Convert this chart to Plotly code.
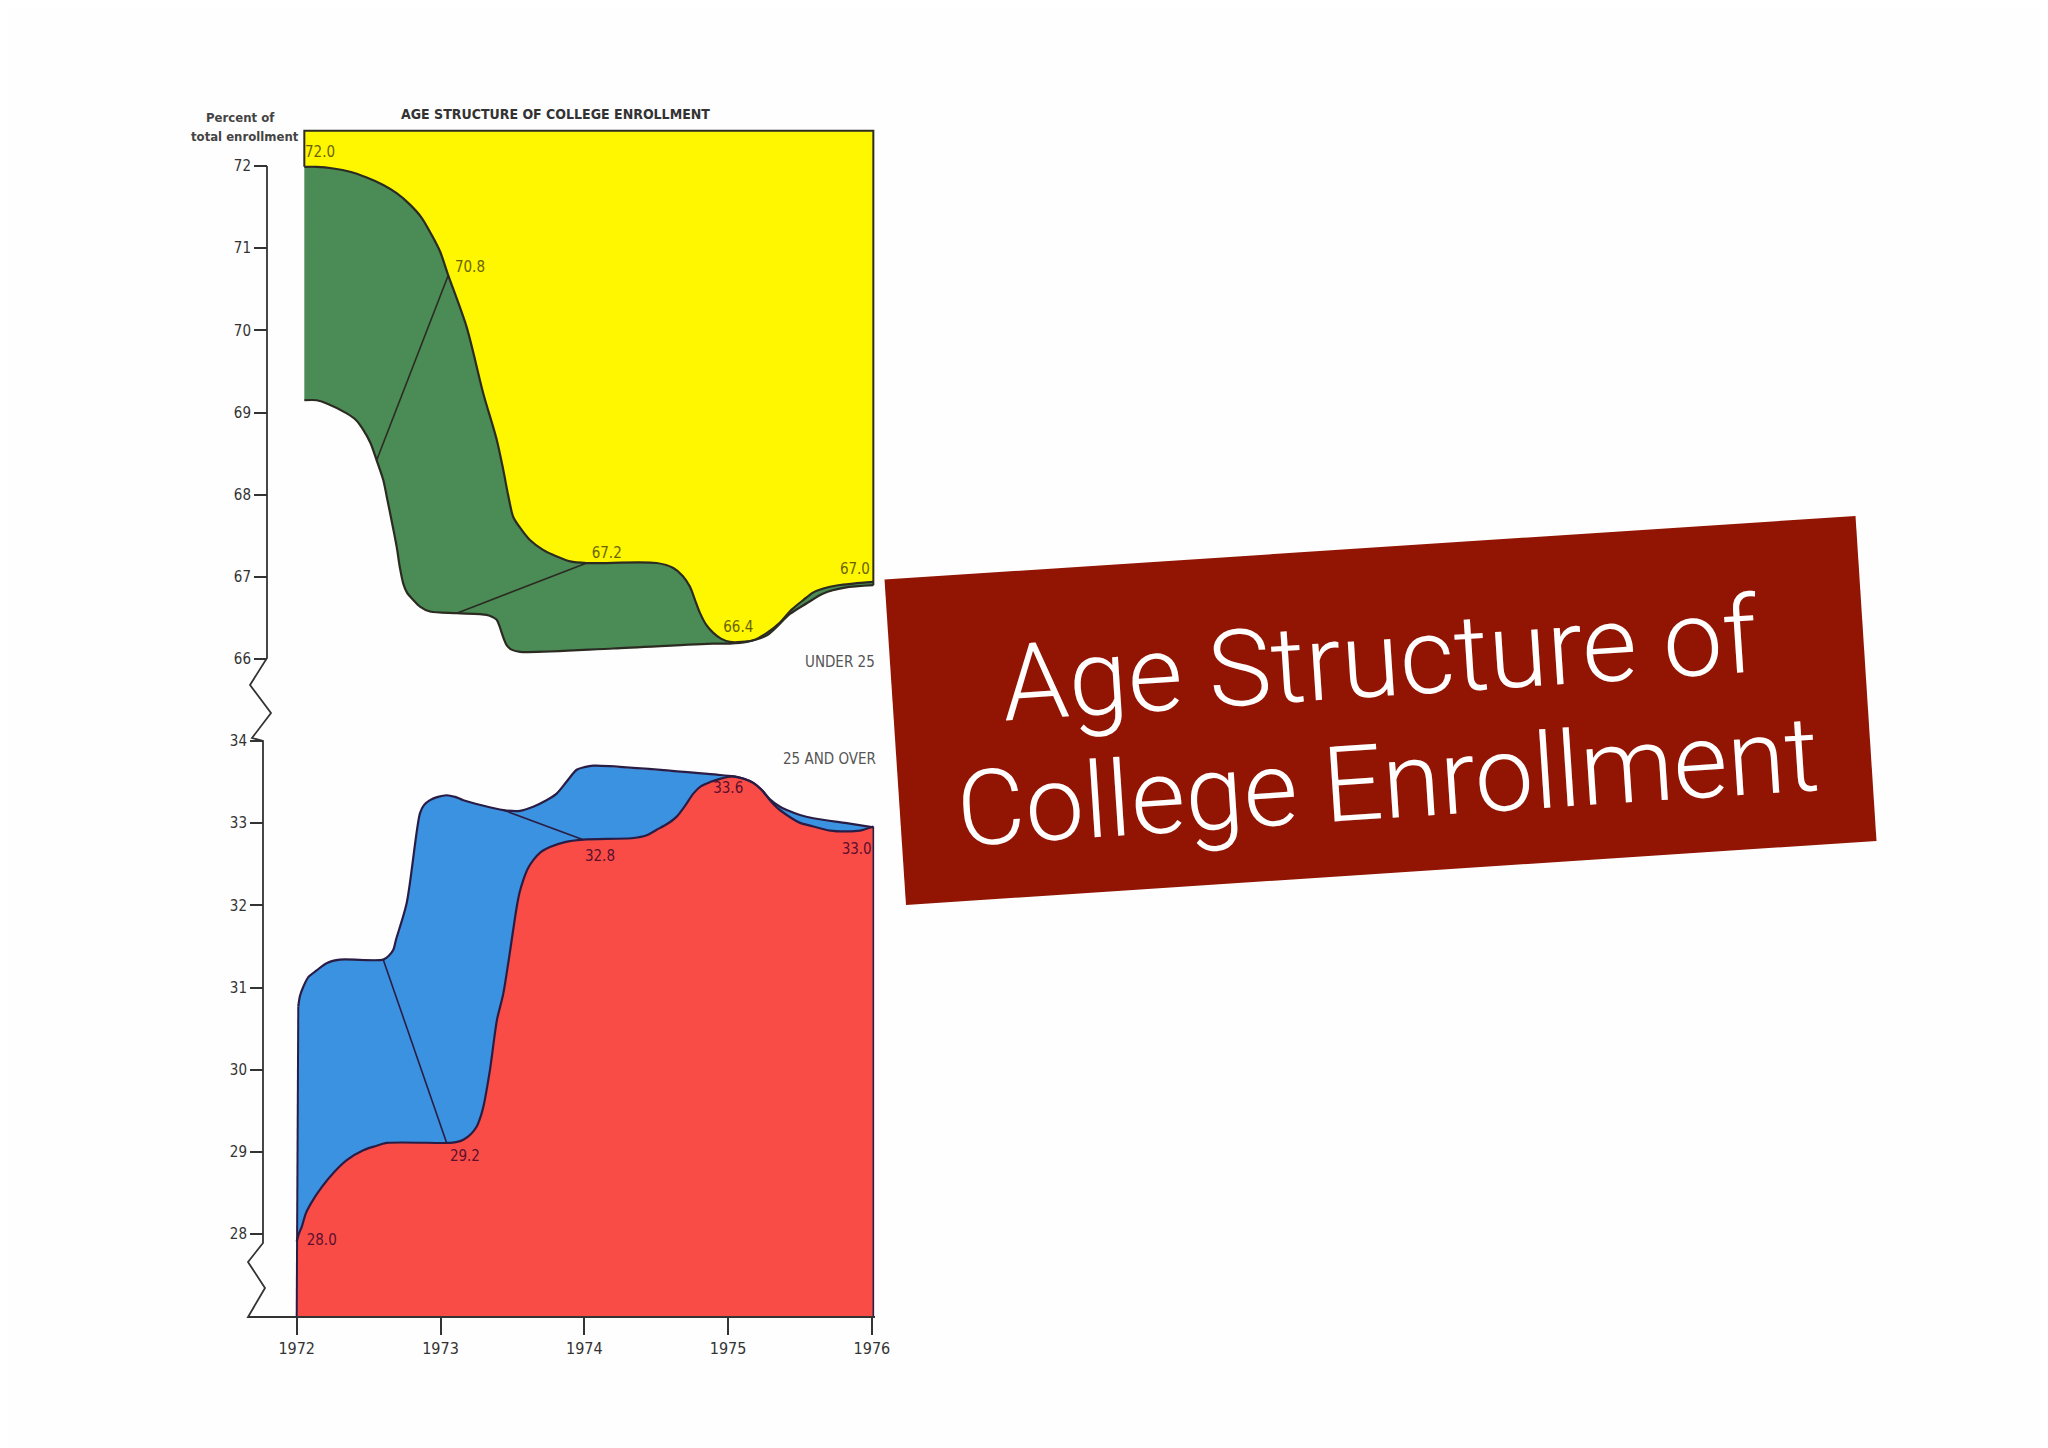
import plotly.graph_objects as go

W, H = 2048, 1448
OFF = 8                      # default page margin of the html body
FW, FH = W - OFF, H - OFF    # figure size so the page is filled exactly

# ---------------- data ----------------
years = [1972, 1973, 1974, 1975, 1976]
under_25 = [72.0, 70.8, 67.2, 66.4, 67.0]
over_25 = [28.0, 29.2, 32.8, 33.6, 33.0]

# "Under 25" front edge (yellow / green boundary)
u_front_x = [1972.053, 1972.139, 1972.255, 1972.371, 1972.487, 1972.602, 1972.695, 1972.788,
             1972.869, 1972.939, 1972.997, 1973.054, 1973.182, 1973.298, 1973.391, 1973.437,
             1973.470, 1973.506, 1973.553, 1973.622, 1973.713, 1973.808, 1973.901, 1974.017,
             1974.503, 1974.619, 1974.686, 1974.735, 1974.770, 1974.805, 1974.847, 1974.897,
             1974.950, 1975.013, 1975.096, 1975.175, 1975.270, 1975.357, 1975.440, 1975.523,
             1975.590, 1975.662, 1975.765, 1975.871, 1976.010]
u_front_y = [71.99, 71.99, 71.97, 71.93, 71.86, 71.77, 71.67, 71.53,
             71.37, 71.16, 70.96, 70.67, 70.04, 69.23, 68.67, 68.30,
             68.00, 67.73, 67.60, 67.45, 67.33, 67.25, 67.19, 67.17,
             67.17, 67.11, 67.01, 66.88, 66.72, 66.56, 66.42, 66.32,
             66.25, 66.21, 66.21, 66.23, 66.32, 66.44, 66.60, 66.72,
             66.81, 66.86, 66.90, 66.92, 66.94]
# "Under 25" back edge (green / white boundary)
u_back_x = [1972.053, 1972.139, 1972.209, 1972.348, 1972.412, 1972.463, 1972.513, 1972.556,
            1972.602, 1972.626, 1972.695, 1972.718, 1972.741, 1972.767, 1972.811, 1972.857,
            1972.927, 1973.113, 1973.321, 1973.365, 1973.391, 1973.411, 1973.426, 1973.442,
            1973.460, 1973.490, 1973.553, 1974.202, 1974.897, 1975.013, 1975.129, 1975.270,
            1975.430, 1975.547, 1975.662, 1975.813, 1976.010]
u_back_y = [69.15, 69.15, 69.11, 68.99, 68.91, 68.79, 68.63, 68.42,
            68.18, 67.98, 67.37, 67.11, 66.92, 66.81, 66.72, 66.64,
            66.58, 66.56, 66.54, 66.51, 66.48, 66.40, 66.32, 66.24,
            66.17, 66.12, 66.09, 66.13, 66.19, 66.19, 66.21, 66.29,
            66.55, 66.68, 66.80, 66.87, 66.90]
u_top = 72.43
u_link_x = [1973.054, 1972.556, None, 1974.017, 1973.113]
u_link_y = [70.67, 68.42, None, 67.17, 66.56]

# "25 and over" front edge (red / blue boundary)
o_front_x = [1972.000, 1972.016, 1972.035, 1972.065, 1972.115, 1972.169, 1972.232, 1972.348,
             1972.463, 1972.545, 1972.626, 1973.043, 1973.108, 1973.159, 1973.212, 1973.252,
             1973.279, 1973.298, 1973.344, 1973.393, 1973.437, 1973.530, 1973.549, 1973.576,
             1973.605, 1973.645, 1973.699, 1973.761, 1973.865, 1973.993, 1974.341, 1974.429,
             1974.503, 1974.575, 1974.643, 1974.700, 1974.758, 1974.812, 1974.874, 1974.943,
             1975.036, 1975.110, 1975.175, 1975.236, 1975.291, 1975.346, 1975.408, 1975.493,
             1975.593, 1975.709, 1975.825, 1975.917, 1976.010]
o_front_y = [27.91, 28.01, 28.09, 28.26, 28.42, 28.56, 28.70, 28.90,
             29.02, 29.07, 29.11, 29.11, 29.12, 29.15, 29.22, 29.31,
             29.43, 29.55, 30.00, 30.61, 30.93, 31.98, 32.15, 32.31,
             32.44, 32.55, 32.65, 32.71, 32.77, 32.80, 32.82, 32.85,
             32.92, 32.99, 33.08, 33.21, 33.36, 33.45, 33.50, 33.54,
             33.57, 33.54, 33.49, 33.40, 33.28, 33.18, 33.10, 33.01,
             32.96, 32.91, 32.90, 32.91, 32.96]
# "25 and over" back edge (blue top)
o_back_x = [1972.011, 1972.023, 1972.046, 1972.082, 1972.139, 1972.211, 1972.301, 1972.602,
            1972.642, 1972.672, 1972.690, 1972.765, 1972.857, 1972.885, 1972.927, 1972.982,
            1973.043, 1973.101, 1973.159, 1973.437, 1973.553, 1973.645, 1973.727, 1973.808,
            1973.879, 1973.947, 1973.998, 1974.063, 1974.921, 1975.036, 1975.110, 1975.175,
            1975.236, 1975.291, 1975.361, 1975.408, 1975.500, 1975.593, 1975.825, 1976.010]
o_back_y = [30.77, 30.90, 31.01, 31.13, 31.21, 31.30, 31.34, 31.34,
            31.39, 31.46, 31.58, 32.03, 33.12, 33.22, 33.28, 33.32,
            33.34, 33.32, 33.28, 33.16, 33.15, 33.20, 33.27, 33.36,
            33.51, 33.65, 33.68, 33.70, 33.59, 33.57, 33.54, 33.49,
            33.40, 33.29, 33.20, 33.16, 33.10, 33.06, 33.00, 32.95]
o_base = 27.0
o_link_x = [1972.602, 1973.043, None, 1973.437, 1973.993]
o_link_y = [31.34, 29.11, None, 33.16, 32.80]

# value-label positions (data coordinates)
u_label_x = [1972.162, 1973.205, 1974.156, 1975.071, 1975.882]
u_label_y = [72.155, 70.755, 67.28, 66.376, 67.085]
o_label_x = [1972.174, 1973.170, 1974.109, 1975.001, 1975.894]
o_label_y = [27.92, 28.94, 32.585, 33.41, 32.674]

y_ticks_upper = [66, 67, 68, 69, 70, 71, 72]
y_ticks_lower = [28, 29, 30, 31, 32, 33, 34]

# ---------------- styling ----------------
YELLOW = "#fff700"
GREEN = "#4a8b56"
BLUE = "#3b92e0"
RED = "#f94c46"
BANNER = "#921403"
DARK_U = "#2b2b22"
DARK_L = "#2a1d45"
NARROW = "Liberation Sans Narrow, Arial Narrow, DejaVu Sans Condensed, Liberation Sans, Arial"
BANNER_FONT = "Roboto, Liberation Sans, Arial"

# pixel <-> axis layout helpers (layout only)
X0_PX, X_PER_YEAR = 296.7, 143.8
Y_PER_UNIT = 82.2
U_REF_PX, U_REF_V = 166.0, 72.0
L_REF_PX, L_REF_V = 741.0, 34.0


def xr(px):
    return 1972 + (px - X0_PX) / X_PER_YEAR


def px_(x):
    return (x - OFF) / FW


def py_(y):
    return 1 - (y - OFF) / FH


x_dom_px = (240, 900)
u_dom_px = (120, 690)
l_dom_px = (690, 1317)

fig = go.Figure()


def poly(x, y, color, yaxis):
    fig.add_trace(go.Scatter(x=x, y=y, fill="toself", fillcolor=color, mode="lines",
                             line=dict(width=0, color=color), hoverinfo="skip",
                             xaxis="x", yaxis=yaxis, showlegend=False))


def outline(x, y, color, yaxis, width=2.0, shape="linear"):
    fig.add_trace(go.Scatter(x=x, y=y, mode="lines",
                             line=dict(color=color, width=width, shape=shape,
                                       smoothing=0.8 if shape == "spline" else None),
                             hoverinfo="skip", connectgaps=False,
                             xaxis="x", yaxis=yaxis, showlegend=False))


# ---- under 25 ----
poly([u_front_x[0], u_front_x[-1]] + u_front_x[::-1],
     [u_top, u_top] + u_front_y[::-1], YELLOW, "y")
poly(u_front_x + u_back_x[::-1], u_front_y + u_back_y[::-1], GREEN, "y")
outline([u_front_x[0], u_front_x[0], u_front_x[-1], u_back_x[-1]],
        [u_front_y[0], u_top, u_top, u_back_y[-1]], DARK_U, "y", 2.0)
outline(u_front_x, u_front_y, DARK_U, "y", 2.2, "spline")
outline(u_back_x, u_back_y, DARK_U, "y", 2.2, "spline")
outline(u_link_x, u_link_y, DARK_U, "y", 1.6)
fig.add_trace(go.Scatter(
    x=u_label_x, y=u_label_y, mode="text",
    text=[f"{v:.1f}" for v in under_25],
    textfont=dict(family=NARROW, size=15, color="#6a6400"),
    hoverinfo="skip", cliponaxis=False,
    xaxis="x", yaxis="y", showlegend=False))

# ---- 25 and over ----
poly(o_back_x + o_front_x[::-1], o_back_y + o_front_y[::-1], BLUE, "y2")
poly(o_front_x + [o_front_x[-1], o_front_x[0]], o_front_y + [o_base, o_base], RED, "y2")
outline([o_back_x[0], o_front_x[0], o_front_x[0]], [o_back_y[0], o_front_y[0], o_base],
        DARK_L, "y2", 2.0)
outline([o_front_x[-1], o_front_x[-1]], [o_front_y[-1], o_base], DARK_L, "y2", 1.6)
outline(o_front_x, o_front_y, DARK_L, "y2", 2.2, "spline")
outline(o_back_x, o_back_y, DARK_L, "y2", 2.2, "spline")
outline(o_link_x, o_link_y, DARK_L, "y2", 1.6)
fig.add_trace(go.Scatter(
    x=o_label_x, y=o_label_y, mode="text",
    text=[f"{v:.1f}" for v in over_25],
    textfont=dict(family=NARROW, size=15, color="#5c0f2e"),
    hoverinfo="skip", cliponaxis=False,
    xaxis="x", yaxis="y2", showlegend=False))

axis_font = dict(family=NARROW, size=15, color="#333")

fig.update_layout(
    width=FW, height=FH,
    margin=dict(l=0, r=0, t=0, b=0),
    paper_bgcolor="#fefefe", plot_bgcolor="rgba(0,0,0,0)",
    showlegend=False,
    xaxis=dict(
        domain=[px_(x_dom_px[0]), px_(x_dom_px[1])],
        range=[xr(x_dom_px[0]), xr(x_dom_px[1])],
        anchor="y2", showgrid=False, zeroline=False, showline=False,
        tickmode="array", tickvals=years, ticktext=[str(y) for y in years],
        ticks="outside", ticklen=17, tickwidth=1.5, tickcolor="#333",
        tickfont=dict(family=NARROW, size=16, color="#333"), fixedrange=True),
    yaxis=dict(
        domain=[py_(u_dom_px[1]), py_(u_dom_px[0])],
        range=[U_REF_V - (u_dom_px[1] - U_REF_PX) / Y_PER_UNIT,
               U_REF_V + (U_REF_PX - u_dom_px[0]) / Y_PER_UNIT],
        anchor="free", position=px_(267), side="left",
        showgrid=False, zeroline=False, showline=False,
        tickmode="array", tickvals=y_ticks_upper,
        ticks="outside", ticklen=13, tickwidth=1.5, tickcolor="#333",
        tickfont=axis_font, fixedrange=True),
    yaxis2=dict(
        domain=[py_(l_dom_px[1]), py_(l_dom_px[0])],
        range=[L_REF_V - (l_dom_px[1] - L_REF_PX) / Y_PER_UNIT,
               L_REF_V + (L_REF_PX - l_dom_px[0]) / Y_PER_UNIT],
        anchor="free", position=px_(263), side="left",
        showgrid=False, zeroline=False, showline=False,
        tickmode="array", tickvals=y_ticks_lower,
        ticks="outside", ticklen=13, tickwidth=1.5, tickcolor="#333",
        tickfont=axis_font, fixedrange=True),
)

# axis lines with scale breaks (decoration)
axis_pts = [(267, 166), (267, 658), (250, 685), (271, 713), (252, 738), (263, 741),
            (263, 1243), (248, 1262), (265, 1288), (248, 1317), (875, 1317)]
path = "M " + " L ".join(f"{px_(a):.5f},{py_(b):.5f}" for a, b in axis_pts)
fig.add_shape(type="path", path=path, xref="paper", yref="paper",
              line=dict(color="#333", width=1.8), layer="above")

# banner
banner_pts = [(884.5, 579.5), (1855.5, 516), (1876.5, 841), (906, 905)]
bpath = "M " + " L ".join(f"{px_(a):.5f},{py_(b):.5f}" for a, b in banner_pts) + " Z"
fig.add_shape(type="path", path=bpath, xref="paper", yref="paper",
              fillcolor=BANNER, line=dict(width=0), layer="above")

annotations = [
    dict(text="Age Structure of", x=px_(1380), y=py_(659), textangle=-3.73,
         font=dict(family=BANNER_FONT, size=106.5, color="white", weight=300)),
    dict(text="College Enrollment", x=px_(1387), y=py_(782), textangle=-3.73,
         font=dict(family=BANNER_FONT, size=105, color="white", weight=300)),
    dict(text="<b>AGE STRUCTURE OF COLLEGE ENROLLMENT</b>", x=px_(555), y=py_(114),
         font=dict(family=NARROW, size=14, color="#333")),
    dict(text="<b>Percent of</b>", x=px_(240), y=py_(118),
         font=dict(family=NARROW, size=13, color="#444")),
    dict(text="<b>total enrollment</b>", x=px_(245), y=py_(136),
         font=dict(family=NARROW, size=13, color="#444")),
]
for a in annotations:
    a.update(xref="paper", yref="paper", showarrow=False, xanchor="center", yanchor="middle")
    fig.add_annotation(**a)

fig.add_annotation(text="UNDER 25", x=1975.778, y=65.96, xref="x", yref="y",
                   showarrow=False, font=dict(family=NARROW, size=15, color="#555"))
fig.add_annotation(text="25 AND OVER", x=1975.707, y=33.777, xref="x", yref="y2",
                   showarrow=False, font=dict(family=NARROW, size=15, color="#555"))

fig.write_html("out.html")
